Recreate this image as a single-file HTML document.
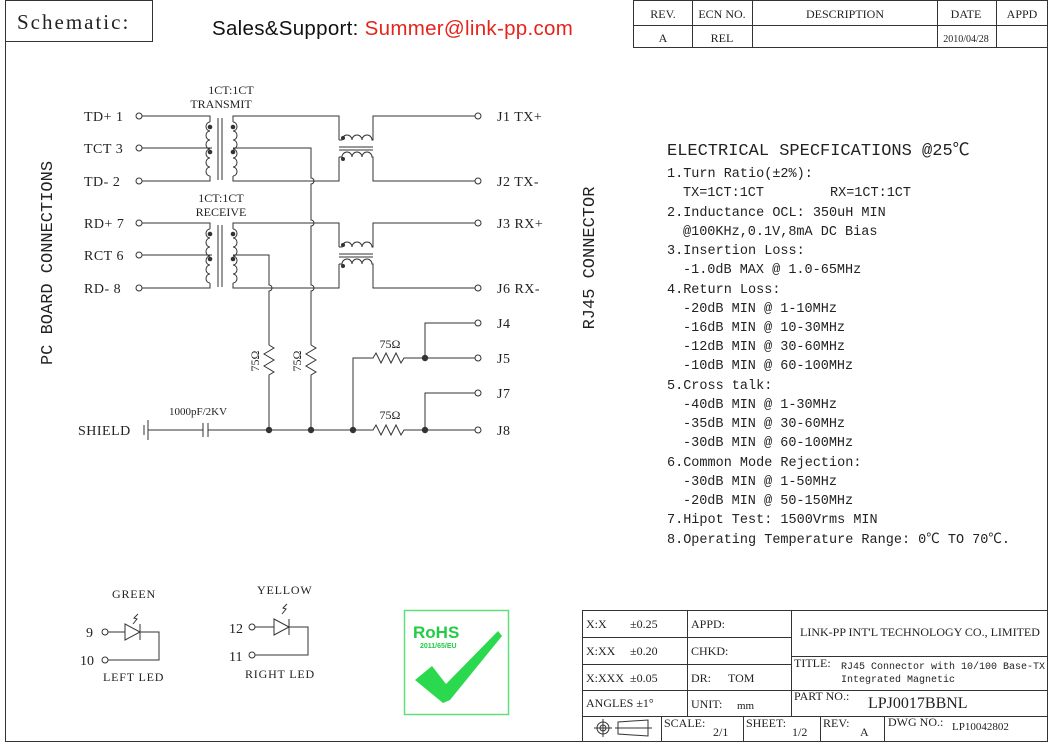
<!DOCTYPE html>
<html><head><meta charset="utf-8"><style>
body{margin:0;background:#fff}
svg{display:block}
.s{font-family:"Liberation Serif","Noto Serif CJK SC",serif;fill:#222}
.m{font-family:"Liberation Mono","Noto Sans CJK SC",monospace;fill:#222}
</style></head><body>
<svg width="1050" height="743" viewBox="0 0 1050 743" xmlns="http://www.w3.org/2000/svg">
<g stroke="#333" stroke-width="1" fill="none">
<line x1="5.5" y1="0" x2="5.5" y2="741"/>
<line x1="1047.5" y1="0" x2="1047.5" y2="741"/>
<line x1="5" y1="741.5" x2="1048" y2="741.5"/>
<rect x="5.5" y="0.5" width="147" height="41"/>
<rect x="633.5" y="0.5" width="414" height="47"/>
<line x1="633" y1="25.5" x2="1048" y2="25.5"/>
<line x1="692.5" y1="0" x2="692.5" y2="48"/>
<line x1="752.5" y1="0" x2="752.5" y2="48"/>
<line x1="937.5" y1="0" x2="937.5" y2="48"/>
<line x1="996.5" y1="0" x2="996.5" y2="48"/>
<rect x="582.5" y="610.5" width="465" height="131"/>
<line x1="582" y1="637.5" x2="791" y2="637.5"/>
<line x1="582" y1="664.5" x2="791" y2="664.5"/>
<line x1="582" y1="690.5" x2="1048" y2="690.5"/>
<line x1="582" y1="716.5" x2="1048" y2="716.5"/>
<line x1="791" y1="656.5" x2="1048" y2="656.5"/>
<line x1="687.5" y1="610" x2="687.5" y2="716"/>
<line x1="791.5" y1="610" x2="791.5" y2="716"/>
<line x1="661.5" y1="716" x2="661.5" y2="741"/>
<line x1="743.5" y1="716" x2="743.5" y2="741"/>
<line x1="820.5" y1="716" x2="820.5" y2="741"/>
<line x1="884.5" y1="716" x2="884.5" y2="741"/>
<circle cx="603" cy="728" r="6"/><circle cx="603" cy="728" r="3"/>
<line x1="594" y1="728" x2="612" y2="728"/><line x1="603" y1="719" x2="603" y2="737"/>
<path d="M618 722 L648 720 L648 736 L618 734 Z"/><line x1="615" y1="728" x2="652" y2="728"/>
</g>
<text x="17" y="29" class="s" font-size="21" letter-spacing="2">Schematic:</text>
<text x="212" y="35" font-family="Liberation Sans,sans-serif" font-size="20.5" fill="#111" letter-spacing="0.3">Sales&amp;Support: <tspan fill="#e5241b">Summer@link-pp.com</tspan></text>
<g class="s" font-size="12" text-anchor="middle">
<text x="663" y="18">REV.</text><text x="722" y="18">ECN NO.</text><text x="845" y="18">DESCRIPTION</text><text x="966" y="18">DATE</text><text x="1022" y="18">APPD</text>
<text x="663" y="42">A</text><text x="722" y="42">REL</text><text x="966" y="42" font-size="10">2010/04/28</text>
</g>
<g class="s" font-size="12">
<text x="586" y="628">X:X</text><text x="630" y="628">±0.25</text>
<text x="586" y="655">X:XX</text><text x="630" y="655">±0.20</text>
<text x="586" y="682">X:XXX</text><text x="630" y="682">±0.05</text>
<text x="586" y="707">ANGLES ±1°</text>
<text x="691" y="628">APPD:</text><text x="691" y="655">CHKD:</text>
<text x="691" y="682">DR:</text><text x="728" y="682">TOM</text>
<text x="691" y="708">UNIT:</text><text x="737" y="709" font-size="11">mm</text>
<text x="800" y="636">LINK-PP INT'L TECHNOLOGY CO., LIMITED</text>
<text x="794" y="667">TITLE:</text>
<text x="841" y="669" class="m" font-size="10">RJ45 Connector with 10/100 Base-TX</text>
<text x="841" y="682" class="m" font-size="10">Integrated Magnetic</text>
<text x="794" y="700">PART NO.:</text><text x="868" y="708" font-size="16">LPJ0017BBNL</text>
<text x="664" y="727">SCALE:</text><text x="713" y="736">2/1</text>
<text x="746" y="727">SHEET:</text><text x="792" y="736">1/2</text>
<text x="823" y="727">REV:</text><text x="860" y="736">A</text>
<text x="888" y="726">DWG NO.:</text><text x="952" y="730" font-size="11">LP10042802</text>
</g>
<text x="667" y="155" class="m" font-size="17">ELECTRICAL SPECFICATIONS @25℃</text>
<g class="m" font-size="13.5">
<text x="667" y="177">1.Turn Ratio(±2%):</text>
<text x="683" y="196">TX=1CT:1CT</text><text x="830" y="196">RX=1CT:1CT</text>
<text x="667" y="216">2.Inductance OCL: 350uH MIN</text>
<text x="683" y="235">@100KHz,0.1V,8mA DC Bias</text>
<text x="667" y="254">3.Insertion Loss:</text>
<text x="683" y="273">-1.0dB MAX @ 1.0-65MHz</text>
<text x="667" y="293">4.Return Loss:</text>
<text x="683" y="312">-20dB MIN @ 1-10MHz</text>
<text x="683" y="331">-16dB MIN @ 10-30MHz</text>
<text x="683" y="350">-12dB MIN @ 30-60MHz</text>
<text x="683" y="369">-10dB MIN @ 60-100MHz</text>
<text x="667" y="389">5.Cross talk:</text>
<text x="683" y="408">-40dB MIN @ 1-30MHz</text>
<text x="683" y="427">-35dB MIN @ 30-60MHz</text>
<text x="683" y="446">-30dB MIN @ 60-100MHz</text>
<text x="667" y="466">6.Common Mode Rejection:</text>
<text x="683" y="485">-30dB MIN @ 1-50MHz</text>
<text x="683" y="504">-20dB MIN @ 50-150MHz</text>
<text x="667" y="523">7.Hipot Test: 1500Vrms MIN</text>
<text x="667" y="543">8.Operating Temperature Range: 0℃ TO 70℃.</text>
</g>
<text transform="translate(52,263) rotate(-90)" class="m" font-size="17" text-anchor="middle">PC BOARD CONNECTIONS</text>
<text transform="translate(594,258) rotate(-90)" class="m" font-size="17" text-anchor="middle">RJ45 CONNECTOR</text>
<g class="s" font-size="14" letter-spacing="0.5">
<text x="84" y="121">TD+ 1</text><text x="84" y="153">TCT 3</text><text x="84" y="186">TD- 2</text>
<text x="84" y="228">RD+ 7</text><text x="84" y="260">RCT 6</text><text x="84" y="293">RD- 8</text>
<text x="497" y="121">J1 TX+</text><text x="497" y="186">J2 TX-</text>
<text x="497" y="228">J3 RX+</text><text x="497" y="293">J6 RX-</text>
<text x="497" y="328">J4</text><text x="497" y="363">J5</text><text x="497" y="398">J7</text><text x="497" y="435">J8</text>
<text x="78" y="435">SHIELD</text>
</g>
<g class="s" font-size="12" text-anchor="middle">
<text x="231" y="94">1CT:1CT</text><text x="221" y="108">TRANSMIT</text>
<text x="221" y="202">1CT:1CT</text><text x="221" y="216">RECEIVE</text>
<text x="198" y="415" font-size="11">1000pF/2KV</text>
<text x="390" y="348">75Ω</text><text x="390" y="419">75Ω</text>
<text transform="translate(259,361) rotate(-90)">75Ω</text>
<text transform="translate(301,361) rotate(-90)">75Ω</text>
</g>
<g stroke="#333" stroke-width="1" fill="none">
<g fill="#fff">
<circle cx="139" cy="116" r="3"/><circle cx="139" cy="148" r="3"/><circle cx="139" cy="181" r="3"/>
<circle cx="139" cy="223" r="3"/><circle cx="139" cy="255" r="3"/><circle cx="139" cy="288" r="3"/>
<circle cx="478" cy="116" r="3"/><circle cx="478" cy="181" r="3"/><circle cx="478" cy="223" r="3"/><circle cx="478" cy="288" r="3"/>
<circle cx="478" cy="323" r="3"/><circle cx="478" cy="358" r="3"/><circle cx="478" cy="393" r="3"/><circle cx="478" cy="430" r="3"/>
</g>
<path d="M142 116 H210 V122"/><path d="M142 148 H212"/><path d="M142 181 H210 V176"/>
<path d="M210 122 a4 4.5 0 0 0 0 9 a4 4.5 0 0 0 0 9 a4 4.5 0 0 0 0 9 a4 4.5 0 0 0 0 9 a4 4.5 0 0 0 0 9 a4 4.5 0 0 0 0 9"/>
<line x1="218" y1="118" x2="218" y2="180"/><line x1="222" y1="118" x2="222" y2="180"/>
<path d="M233 122 a4 4.5 0 0 1 0 9 a4 4.5 0 0 1 0 9 a4 4.5 0 0 1 0 9 a4 4.5 0 0 1 0 9 a4 4.5 0 0 1 0 9 a4 4.5 0 0 1 0 9"/>
<path d="M233 122 V116 H339 V140"/><path d="M233 148 H311 V178 a3 3 0 0 1 0 6 V220 a3 3 0 0 1 0 6 V285 a3 3 0 0 1 0 6 V345"/>
<path d="M233 176 V181 H339 V157"/>
<path d="M339 140 H342 a5 5 0 0 1 10 0 a5 5 0 0 1 10 0 a5 5 0 0 1 10 0 H373 V116 H475"/>
<line x1="339" y1="147" x2="373" y2="147"/><line x1="339" y1="150" x2="373" y2="150"/>
<path d="M339 157 H342 a5 5 0 0 1 10 0 a5 5 0 0 1 10 0 a5 5 0 0 1 10 0 H373 V181 H475"/>
<path d="M142 223 H210 V229"/><path d="M142 255 H212"/><path d="M142 288 H210 V283"/>
<path d="M210 229 a4 4.5 0 0 0 0 9 a4 4.5 0 0 0 0 9 a4 4.5 0 0 0 0 9 a4 4.5 0 0 0 0 9 a4 4.5 0 0 0 0 9 a4 4.5 0 0 0 0 9"/>
<line x1="218" y1="225" x2="218" y2="287"/><line x1="222" y1="225" x2="222" y2="287"/>
<path d="M233 229 a4 4.5 0 0 1 0 9 a4 4.5 0 0 1 0 9 a4 4.5 0 0 1 0 9 a4 4.5 0 0 1 0 9 a4 4.5 0 0 1 0 9 a4 4.5 0 0 1 0 9"/>
<path d="M233 229 V223 H339 V247"/><path d="M233 255 H269 V285 a3 3 0 0 1 0 6 V345"/>
<path d="M233 283 V288 H339 V264"/>
<path d="M339 247 H342 a5 5 0 0 1 10 0 a5 5 0 0 1 10 0 a5 5 0 0 1 10 0 H373 V223 H475"/>
<line x1="339" y1="254" x2="373" y2="254"/><line x1="339" y1="257" x2="373" y2="257"/>
<path d="M339 264 H342 a5 5 0 0 1 10 0 a5 5 0 0 1 10 0 a5 5 0 0 1 10 0 H373 V288 H475"/>
<path d="M269 345 l5 3 l-10 6 l10 6 l-10 6 l10 6 l-5 3 V430"/>
<path d="M311 345 l5 3 l-10 6 l10 6 l-10 6 l10 6 l-5 3 V430"/>
<path d="M148 430 H203 M208 430 H373 l3 -5 l5 10 l5 -10 l5 10 l5 -10 l5 10 l3 -5 H475"/>
<line x1="144" y1="425" x2="144" y2="435"/><line x1="148" y1="420" x2="148" y2="440"/>
<line x1="203" y1="423" x2="203" y2="437"/><line x1="208" y1="423" x2="208" y2="437"/>
<path d="M353 430 V358 H373 l3 -5 l5 10 l5 -10 l5 10 l5 -10 l5 10 l3 -5 H475"/>
<path d="M425 358 V323 H475"/><path d="M425 430 V393 H475"/>
</g>
<g fill="#333">
<circle cx="210" cy="127" r="2.3"/><circle cx="210" cy="152" r="2.3"/><circle cx="233" cy="127" r="2.3"/><circle cx="233" cy="152" r="2.3"/>
<circle cx="210" cy="234" r="2.3"/><circle cx="210" cy="259" r="2.3"/><circle cx="233" cy="234" r="2.3"/><circle cx="233" cy="259" r="2.3"/>
<circle cx="343" cy="138" r="2"/><circle cx="343" cy="159" r="2"/><circle cx="343" cy="245" r="2"/><circle cx="343" cy="266" r="2"/>
<circle cx="269" cy="430" r="3.2"/><circle cx="311" cy="430" r="3.2"/><circle cx="353" cy="430" r="3.2"/>
<circle cx="425" cy="430" r="3.2"/><circle cx="425" cy="358" r="3.2"/>
</g>
<g class="s" font-size="14">
<text x="86" y="637">9</text><text x="80" y="665">10</text>
<text x="229" y="633">12</text><text x="229" y="661">11</text>
</g>
<g class="s" font-size="12" letter-spacing="0.8">
<text x="112" y="598">GREEN</text><text x="103" y="681">LEFT LED</text>
<text x="257" y="594">YELLOW</text><text x="245" y="678">RIGHT LED</text>
</g>
<g stroke="#333" stroke-width="1" fill="none">
<circle cx="105" cy="632" r="3" fill="#fff"/><circle cx="105" cy="660" r="3" fill="#fff"/>
<path d="M108 632 H125 M125 624 V640 L140 632 Z M140 624 V640 M140 632 H159 V660 H108"/>
<path d="M138 614 l-4 4 l3 1 l-4 5"/>
<circle cx="252" cy="627" r="3" fill="#fff"/><circle cx="252" cy="655" r="3" fill="#fff"/>
<path d="M255 627 H274 M274 619 V635 L289 627 Z M289 619 V635 M289 627 H308 V655 H255"/>
<path d="M287 604 l-4 4 l3 1 l-4 5"/>
</g>
<rect x="404.5" y="610.5" width="104" height="104" fill="none" stroke="#5fe07a" stroke-width="1.5"/>
<text x="413" y="638" font-family="Liberation Sans,sans-serif" font-weight="bold" font-size="17" fill="#22cc44">RoHS</text>
<text x="420" y="648" font-family="Liberation Sans,sans-serif" font-weight="bold" font-size="7" fill="#22cc44">2011/65/EU</text>
<path d="M415 680 L432 666 L446 684 L498 631 L502 636 L450 700 L443 703 Z" fill="#2bd94f"/>
</svg>
</body></html>
